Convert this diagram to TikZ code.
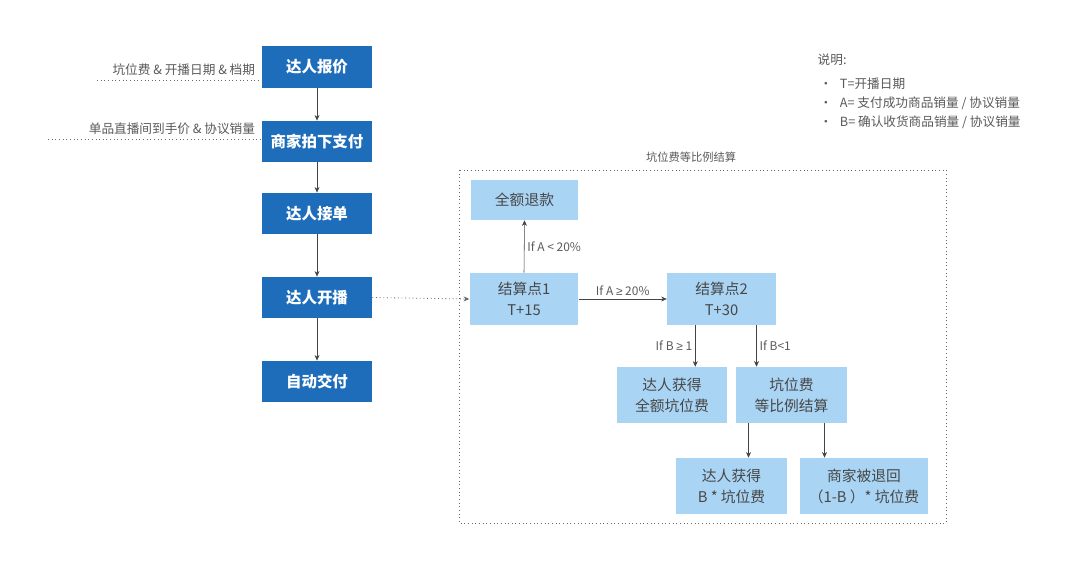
\documentclass[tikz,border=0pt]{standalone}
\usepackage{fontspec}
\setmainfont{Noto Sans CJK SC}
\newfontfamily\symfont{Liberation Sans}
\usetikzlibrary{positioning,arrows.meta,calc}
\definecolor{deepc}{HTML}{1E6DBA}
\definecolor{lightc}{HTML}{A9D4F4}
\definecolor{linec}{HTML}{444444}
\definecolor{notec}{HTML}{5A5A5A}
\newcommand{\geqsym}{{\symfont ≥}}
\tikzset{
  mainbox/.style={fill=deepc, text=white, inner sep=0pt, align=center,
              minimum width=2.75cm, minimum height=1.03cm,
              font=\fontsize{11}{13}\selectfont\bfseries},
  subbox/.style={fill=lightc, text=black!72, inner sep=0pt, align=center,
              minimum width=2.72cm, minimum height=1.3cm,
              font=\fontsize{10.5}{15}\selectfont},
  flow/.style={draw=linec, -{Stealth[length=4pt,width=3.5pt]}},
  hint/.style={text=notec, inner sep=1pt, font=\fontsize{9}{11}\selectfont},
  cond/.style={text=notec, inner sep=2pt, font=\fontsize{8.5}{10}\selectfont},
  dots/.style={draw=black!60, dotted, line width=0.6pt},
}
\begin{document}
\begin{tikzpicture}[x=0.025cm, y=-0.025cm]
\useasboundingbox[fill=white] (0,0) rectangle (1080,579);
% main process
\node[mainbox] (quote) at (317,67) {达人报价};
\node[mainbox] (pay) at (317,141.5) {商家拍下支付};
\node[mainbox] (accept) at (317,213.5) {达人接单};
\node[mainbox] (live) at (317,297.5) {达人开播};
\node[mainbox] (deliver) at (317,381.5) {自动交付};
\draw[flow] (quote) -- (pay);
\draw[flow] (pay) -- (accept);
\draw[flow] (accept) -- (live);
\draw[flow] (live) -- (deliver);
% inputs on the left
\coordinate (in1) at (97,80);
\coordinate (in2) at (48,139);
\draw[dots] (in1) -- (in1 -| quote.west);
\draw[dots] (in2) -- (in2 -| pay.west);
\node[hint, anchor=south east] (in1txt) at ($(in1 -| quote.west)+(-5,-3)$) {坑位费 \& 开播日期 \& 档期};
\node[hint, anchor=south east] (in2txt) at ($(in2 -| pay.west)+(-5,-3)$) {单品直播间到手价 \& 协议销量};
% legend
\node[hint, anchor=west] (legend) at (816,60) {说明:};
\foreach \i/\t in {1/{T=开播日期}, 2/{A= 支付成功商品销量 / 协议销量}, 3/{B= 确认收货商品销量 / 协议销量}}
  \node[hint, anchor=west] (legend\i) at (818,{65+19*\i}) {\textbullet\hspace{0.6em}\t};
% settlement area
\draw[dots] (459,170) rectangle (946,523);
\node[cond, font=\fontsize{8}{10}\selectfont] (areatitle) at (691,157) {坑位费等比例结算};
\node[subbox, minimum width=2.65cm, minimum height=1.0cm] (refund) at (524.5,200) {全额退款};
\node[subbox] (chk1) at (524,299) {结算点1\\T+15};
\node[subbox] (chk2) at (721.5,299) {结算点2\\T+30};
\node[subbox, minimum width=2.75cm, minimum height=1.4cm] (full) at (672,395) {达人获得\\全额坑位费};
\node[subbox, minimum width=2.75cm, minimum height=1.4cm] (ratio) at (791.5,395) {坑位费\\等比例结算};
\node[subbox, minimum width=2.75cm, minimum height=1.4cm] (part) at (731.5,486) {达人获得\\B * 坑位费};
\node[subbox, minimum width=3.2cm, minimum height=1.4cm] (back) at (864,486) {商家被退回\\（1-B ）* 坑位费};
\draw[dots, -{Stealth[length=4pt,width=3.5pt]}] (live.east) -- (chk1.west);
\draw[flow] (chk1.north) -- node[cond, right] {If A < 20\%} (refund.south);
\draw[flow] (chk1) -- node[cond, above] {If A \geqsym{} 20\%} (chk2);
\draw[flow] (chk2.south -| full.east) ++(-32,0) coordinate (b1) -- (b1 |- full.north) node[cond, midway, left] {If B \geqsym{} 1};
\draw[flow] (chk2.south) ++(35,0) coordinate (b2) -- (b2 |- ratio.north) node[cond, midway, right] {If B<1};
\draw[flow] (ratio.south) ++(-43,0) coordinate (c1) -- (c1 |- part.north);
\draw[flow] (ratio.south) ++(33,0) coordinate (c2) -- (c2 |- back.north);
\end{tikzpicture}
\end{document}
